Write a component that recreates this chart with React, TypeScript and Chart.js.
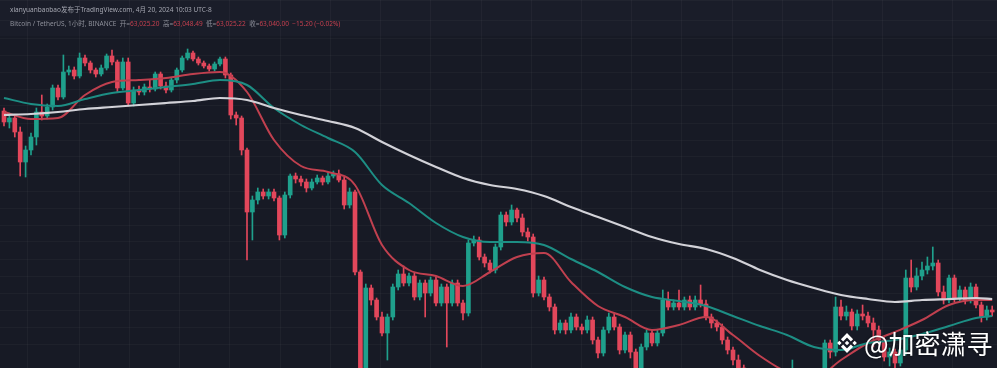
import React, { useEffect, useRef } from "react";
import { Chart, registerables } from "chart.js";

Chart.register(...registerables);

// BTC/USDT 1h candles (price, USDT)
const opens = [
  64890, 64780, 64820, 64680, 64380, 64500, 64630, 64880, 64840, 64930,
  65120, 65030, 65280, 65300, 65240, 65420, 65370, 65300, 65260, 65320,
  65440, 65380, 65120, 65380, 64970, 65100, 65080, 65130, 65110, 65260,
  65140, 65100, 65200, 65300, 65420, 65470, 65410, 65370, 65340, 65310,
  65360, 65410, 65250, 64850, 64820, 64500, 63880, 64000, 64080, 64040,
  64080, 64020, 63650, 64050, 64240, 64210, 64180, 64120, 64180, 64220,
  64180, 64240, 64260, 64200, 63950, 64080, 63280, 62250, 63120, 63000,
  62830, 62670, 62830, 63130, 63260, 63170, 63240, 63030, 63170, 63070,
  63200, 62970, 63130, 62970, 63170, 62970, 62870, 63570, 63600, 63430,
  63370, 63300, 63530, 63850, 63780, 63900, 63820, 63680, 63630, 63070,
  63200, 63030, 62930, 62700, 62770, 62700, 62830, 62730, 62700, 62800,
  62600, 62470, 62700, 62830, 62730, 62500, 62650, 62480, 62280, 62530,
  62670, 62570, 62670, 63000, 62930, 62970, 62930, 63000, 62930, 63000,
  62960, 62830, 62770, 62730, 62600, 62500, 62400, 62320, 62220, 62150,
  62200, 62080, 62120, 62050, 62100, 62020, 62080, 62150, 62100, 62050,
  62120, 62160, 62200, 62570, 62480, 62930, 62840, 62880, 62740, 62860,
  62840, 62770, 62700, 62600, 62430, 62480, 62370, 62500, 63220, 63130,
  63240, 63300, 63340, 63370, 63080, 63000, 63220, 63020, 63100, 63000,
  63130, 62950, 62830, 62900,
];
const closes = [
  64780, 64820, 64680, 64380, 64500, 64630, 64880, 64840, 64930, 65120,
  65030, 65280, 65300, 65240, 65420, 65370, 65300, 65260, 65320, 65440,
  65380, 65120, 65380, 64970, 65100, 65080, 65130, 65110, 65260, 65140,
  65100, 65200, 65300, 65420, 65470, 65410, 65370, 65340, 65310, 65360,
  65410, 65250, 64850, 64820, 64500, 63880, 64000, 64080, 64040, 64080,
  64020, 63650, 64050, 64240, 64210, 64180, 64120, 64180, 64220, 64180,
  64240, 64260, 64200, 63950, 64080, 63280, 62250, 63120, 63000, 62830,
  62670, 62830, 63130, 63260, 63170, 63240, 63030, 63170, 63070, 63200,
  62970, 63130, 62970, 63170, 62970, 62870, 63570, 63600, 63430, 63370,
  63300, 63530, 63850, 63780, 63900, 63820, 63680, 63630, 63070, 63200,
  63030, 62930, 62700, 62770, 62700, 62830, 62730, 62700, 62800, 62600,
  62470, 62700, 62830, 62730, 62500, 62650, 62480, 62280, 62530, 62670,
  62570, 62670, 63000, 62930, 62970, 62930, 63000, 62930, 63000, 62960,
  62830, 62770, 62730, 62600, 62500, 62400, 62320, 62220, 62150, 62200,
  62080, 62120, 62050, 62100, 62020, 62080, 62150, 62100, 62050, 62120,
  62160, 62200, 62570, 62480, 62930, 62840, 62880, 62740, 62860, 62840,
  62770, 62700, 62600, 62430, 62480, 62370, 62500, 63220, 63130, 63240,
  63300, 63340, 63370, 63080, 63000, 63220, 63020, 63100, 63000, 63130,
  62950, 62830, 62900, 62880,
];
const highs = [
  64920, 64870, 64850, 64730, 64540, 64670, 64920, 65050, 64960, 65150,
  65150, 65450, 65340, 65330, 65470, 65450, 65390, 65320, 65350, 65460,
  65500, 65400, 65420, 65420, 65130, 65140, 65160, 65200, 65280, 65280,
  65180, 65220, 65320, 65440, 65510, 65490, 65430, 65390, 65360, 65380,
  65430, 65430, 65270, 64880, 64840, 64520, 64040, 64120, 64110, 64110,
  64110, 64040, 64080, 64260, 64270, 64240, 64210, 64210, 64250, 64240,
  64270, 64290, 64300, 64230, 64120, 64100, 63300, 63160, 63150, 63020,
  62880, 62860, 63160, 63300, 63340, 63270, 63270, 63200, 63200, 63230,
  63230, 63160, 63160, 63200, 63200, 63000, 63600, 63640, 63630, 63460,
  63400, 63560, 63880, 63880, 63950, 63920, 63860, 63720, 63660, 63240,
  63230, 63060, 62960, 62800, 62800, 62870, 62860, 62760, 62840, 62830,
  62630, 62730, 62870, 62860, 62760, 62680, 62680, 62510, 62560, 62700,
  62700, 62700, 63100, 63080, 63000, 63100, 63030, 63040, 63040, 63150,
  63000, 62860, 62800, 62760, 62630, 62530, 62450, 62350, 62250, 62240,
  62230, 62160, 62150, 62140, 62130, 62110, 62400, 62180, 62130, 62160,
  62200, 62230, 62600, 62600, 63030, 63000, 62940, 62910, 62900, 62950,
  62880, 62820, 62740, 62630, 62520, 62510, 62540, 63300, 63400, 63320,
  63380, 63430, 63530, 63400, 63140, 63250, 63250, 63140, 63130, 63170,
  63160, 62980, 62940, 62940,
];
const lows = [
  64740, 64720, 64630, 64240, 64230, 64450, 64550, 64800, 64810, 64900,
  65000, 65010, 65250, 65210, 65220, 65340, 65270, 65230, 65240, 65300,
  65350, 65080, 65100, 64940, 64940, 65050, 65050, 65080, 65090, 65110,
  65070, 65080, 65170, 65280, 65400, 65390, 65350, 65320, 65290, 65290,
  65340, 65220, 64810, 64750, 64450, 63400, 63600, 63960, 64010, 64010,
  63990, 63600, 63620, 64020, 64170, 64140, 64080, 64100, 64160, 64150,
  64160, 64220, 64180, 63910, 63920, 63250, 62100, 62200, 62950, 62800,
  62640, 62400, 62800, 63100, 63140, 63140, 63000, 63000, 62830, 63040,
  62940, 62940, 62530, 62940, 62940, 62800, 62840, 63540, 63400, 63330,
  63270, 63270, 63500, 63740, 63750, 63780, 63640, 63590, 63030, 63040,
  63000, 62890, 62660, 62670, 62660, 62670, 62700, 62660, 62670, 62560,
  62420, 62440, 62670, 62700, 62460, 62470, 62420, 62200, 62220, 62500,
  62540, 62540, 62640, 62900, 62900, 62900, 62900, 62900, 62900, 62930,
  62800, 62720, 62690, 62560, 62460, 62350, 62280, 62180, 62100, 62120,
  62040, 62050, 62020, 62020, 61980, 61990, 62050, 62070, 62020, 62020,
  62090, 62130, 62150, 62420, 62440, 62800, 62800, 62700, 62700, 62800,
  62730, 62530, 62560, 62390, 62340, 62320, 62340, 62450, 63080, 63100,
  63200, 63260, 63300, 63040, 62960, 62970, 62980, 62990, 62960, 62970,
  62920, 62780, 62800, 62840,
];

// moving averages, read at these candle indices
const maIndex = [
  0, 5, 10, 15, 20, 25, 30, 35, 40, 45, 50, 55, 60, 65, 70, 75, 80, 85, 90, 95,
  100, 105, 110, 115, 120, 125, 130, 135, 140, 145, 150, 155, 160, 165, 170, 175, 180, 183,
];
const maFast = [
  64880, 64810, 64820, 65050, 65180, 65200, 65220, 65260, 65280, 65080,
  64600, 64340, 64280, 64150, 63550, 63300, 63240, 63140, 63280, 63430,
  63470, 63180, 62940, 62830, 62700, 62750, 62830, 62650, 62440, 62280,
  62220, 62400, 62570, 62680, 62800, 62950, 63000, 63000,
];
const maMid = [
  65020, 64960, 64940, 65010, 65070, 65100, 65130, 65160, 65200, 65150,
  64920, 64750, 64620, 64480, 64150, 63970, 63770, 63630, 63580, 63580,
  63550, 63410, 63280, 63130, 63030, 62990, 62940, 62840, 62740, 62650,
  62530, 62500, 62570, 62600, 62660, 62740, 62820, 62840,
];
const maSlow = [
  64850, 64860, 64880, 64910, 64930, 64950, 64970, 64990, 65020, 65000,
  64920, 64850, 64790, 64720, 64580, 64450, 64330, 64220, 64150, 64110,
  64040, 63930, 63830, 63730, 63630, 63560, 63510, 63420, 63300, 63200,
  63120, 63050, 63010, 62980, 63000, 63010, 63020, 63010,
];

const UP = "#1fa08c";
const DOWN = "#e2475b";

export default function App() {
  const ref = useRef<HTMLCanvasElement>(null);

  useEffect(() => {
    if (!ref.current) return;
    const colors = closes.map((c, i) => (c >= opens[i] ? UP : DOWN));
    const wickData = closes.map((_, i) => ({ x: i, y: [lows[i], highs[i]] }));
    const bodyData = closes.map((c, i) => ({ x: i, y: [opens[i], c] }));
    const line = (vals: number[]) => maIndex.map((x, k) => ({ x, y: vals[k] }));

    const chart = new Chart(ref.current, {
      type: "bar",
      data: {
        datasets: [
          {
            type: "line",
            data: line(maSlow),
            borderColor: "#d2d2d8",
            borderWidth: 2.2,
            pointRadius: 0,
            cubicInterpolationMode: "monotone",
            order: 0,
          } as any,
          {
            type: "line",
            data: line(maMid),
            borderColor: "#1d8e84",
            borderWidth: 2,
            pointRadius: 0,
            cubicInterpolationMode: "monotone",
            order: 0,
          } as any,
          {
            type: "line",
            data: line(maFast),
            borderColor: "#c0404f",
            borderWidth: 2,
            pointRadius: 0,
            cubicInterpolationMode: "monotone",
            order: 0,
          } as any,
          {
            type: "bar",
            data: bodyData as any,
            backgroundColor: colors,
            barThickness: 4,
            minBarLength: 1,
            grouped: false,
            order: 1,
          } as any,
          {
            type: "bar",
            data: wickData as any,
            backgroundColor: colors,
            barThickness: 1,
            grouped: false,
            order: 2,
          } as any,
        ],
      },
      options: {
        animation: false,
        responsive: true,
        maintainAspectRatio: false,
        layout: { padding: 0 },
        plugins: { legend: { display: false }, tooltip: { enabled: false } },
        scales: {
          x: {
            type: "linear",
            min: -0.74,
            max: 183.89,
            offset: false,
            border: { display: false },
            ticks: { display: false, stepSize: 9.3 },
            grid: { color: "rgba(255,255,255,0.035)", drawTicks: false },
          },
          y: {
            type: "linear",
            min: 62320,
            max: 66000,
            border: { display: false },
            ticks: { display: false, stepSize: 170 },
            grid: { color: "rgba(255,255,255,0.03)", drawTicks: false },
          },
        },
      },
    });
    return () => chart.destroy();
  }, []);

  const red = { color: "#c4404f" };
  return (
    <div
      style={{
        position: "absolute",
        left: 0,
        top: 0,
        width: 997,
        height: 368,
        background: "#171a25",
        overflow: "hidden",
        fontFamily: "'Noto Sans', 'Noto Sans CJK SC', sans-serif",
      }}
    >
      <div style={{ position: "absolute", left: 0, top: 0, width: 997, height: 36, background: "#1a1d29" }} />
      <div style={{ position: "absolute", left: 0, top: 0, width: 997, height: 368 }}>
        <canvas ref={ref} />
      </div>
      <div
        style={{
          position: "absolute",
          left: 10,
          top: 5,
          fontSize: 6.5,
          color: "#a4a6b0",
          whiteSpace: "nowrap",
          lineHeight: "9px",
        }}
      >
        xianyuanbaobao发布于TradingView.com, 4月 20, 2024 10:03 UTC-8
      </div>
      <div
        style={{
          position: "absolute",
          left: 10,
          top: 19,
          fontSize: 6.5,
          color: "#8f919b",
          whiteSpace: "nowrap",
          lineHeight: "9px",
        }}
      >
        Bitcoin / TetherUS, 1小时, BINANCE&nbsp;&nbsp;开=<span style={red}>63,025.20</span>&nbsp;&nbsp;高=
        <span style={red}>63,048.49</span>&nbsp;&nbsp;低=<span style={red}>63,025.22</span>&nbsp;&nbsp;收=
        <span style={red}>63,040.00</span>&nbsp;&nbsp;<span style={red}>−15.20 (−0.02%)</span>
      </div>
      <svg
        viewBox="0 0 126 126"
        width={20}
        height={20}
        style={{ position: "absolute", left: 837, top: 333 }}
      >
        <path
          fill="#ffffff"
          d="M38.73 53.2L63 28.93l24.28 24.28 14.12-14.12L63 .68 24.61 39.07l14.12 14.13zM.68 63l14.12-14.12L28.930 63 14.8 77.12.68 63zm38.05 9.8L63 97.07l24.28-24.28 14.12 14.12-.01.01L63 125.32 24.61 86.93l-.02-.02 14.14-14.11zM97.07 63l14.12-14.12L125.32 63l-14.12 14.12L97.07 63zM77.32 63L63 48.68 52.41 59.27l-1.22 1.22-2.51 2.51-.02.02.02.03L63 77.32 77.32 63z"
        />
      </svg>
      <div
        style={{
          position: "absolute",
          left: 864,
          top: 326,
          fontSize: 26,
          lineHeight: "34px",
          color: "#ffffff",
          whiteSpace: "nowrap",
          fontFamily: "'Noto Sans CJK SC', sans-serif",
          textShadow: "0 0 3px rgba(0,0,0,0.6)",
        }}
      >
        @加密潇寻
      </div>
    </div>
  );
}
